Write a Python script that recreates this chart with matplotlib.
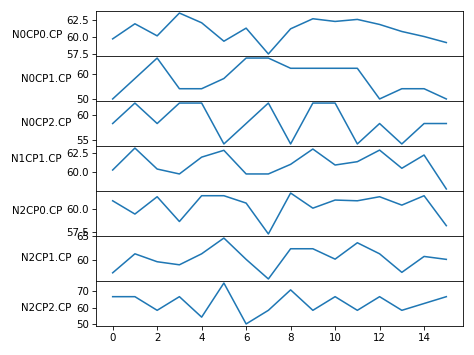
import numpy as np
import matplotlib
matplotlib.use("Agg")
import matplotlib.pyplot as plt

steps = list(range(16))

names = ["N0CP0.CP", "N0CP1.CP", "N0CP2.CP", "N1CP1.CP",
         "N2CP0.CP", "N2CP1.CP", "N2CP2.CP"]

n0cp0 = [59.75, 62.0, 60.2, 63.6, 62.15, 59.4, 61.35, 57.5,
         61.25, 62.75, 62.35, 62.65, 61.9, 60.85, 60.1, 59.2]
n0cp1 = [50.0, 58.33, 66.67, 54.17, 54.17, 58.33, 66.67, 66.67,
         62.5, 62.5, 62.5, 62.5, 50.0, 54.17, 54.17, 50.0]
n0cp2 = [58.33, 62.5, 58.33, 62.5, 62.5, 54.17, 58.33, 62.5,
         54.17, 62.5, 62.5, 54.17, 58.33, 54.17, 58.33, 58.33]
n1cp1 = [60.3, 63.2, 60.43, 59.78, 62.0, 62.9, 59.78, 59.78,
         61.05, 63.07, 60.96, 61.4, 62.93, 60.53, 62.28, 57.8]
n2cp0 = [60.9, 59.46, 61.34, 58.65, 61.45, 61.45, 60.65, 57.3,
         61.74, 60.1, 60.98, 60.9, 61.34, 60.43, 61.45, 58.2]
n2cp1 = [57.3, 61.33, 59.65, 59.0, 61.33, 64.67, 60.15, 56.0,
         62.4, 62.4, 60.2, 63.67, 61.33, 57.4, 60.77, 60.15]
n2cp2 = [66.67, 66.67, 58.33, 66.67, 54.17, 75.0, 50.0, 58.33,
         70.83, 58.33, 66.67, 58.33, 66.67, 58.33, 62.5, 66.67]

series = [n0cp0, n0cp1, n0cp2, n1cp1, n2cp0, n2cp1, n2cp2]

# label heights (axes fraction) as they sit in the original
label_y = [0.47, 0.50, 0.52, 0.72, 0.56, 0.52, 0.41]

fig, axes = plt.subplots(7, 1, sharex=True, figsize=(474 / 74, 355 / 74), dpi=74)
fig.subplots_adjust(left=0.2025, right=0.9768, top=0.969, bottom=0.0817, hspace=0)

for ax, name, vals, ly in zip(axes, names, series, label_y):
    ax.plot(steps, vals, color="#1f77b4")
    ax.set_ylabel(name, rotation=0, ha="right", va="center")
    ax.yaxis.label.set_y(ly)

for ax in axes[:-1]:
    ax.tick_params(axis="x", bottom=False)

axes[-1].set_xticks(np.arange(0, 16, 2))

fig.savefig("out.png", dpi=74)
